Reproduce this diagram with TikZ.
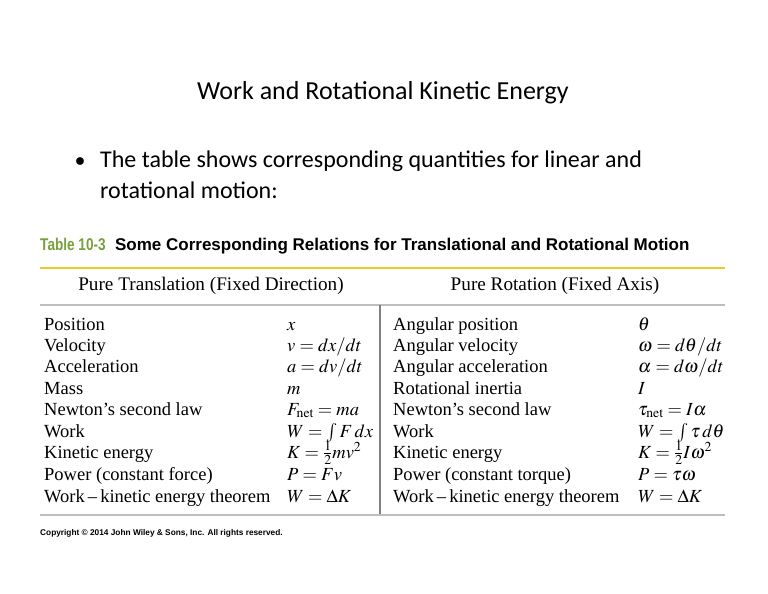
\documentclass[tikz,border=0pt]{standalone}
\usepackage{mathptmx}
\usepackage[no-math]{fontspec}
\setmainfont{Liberation Serif}
\newfontfamily\calfont{Carlito}
\newfontfamily\hsans{Liberation Sans}
\definecolor{tgreen}{RGB}{120,160,60}
\definecolor{tyellow}{RGB}{240,200,40}
\definecolor{tgray}{RGB}{190,190,190}
\begin{document}
\begin{tikzpicture}[x=1pt,y=-1pt,
  lab/.style={anchor=base west,inner sep=0pt,font=\fontsize{18.5}{20}\selectfont},
  bul/.style={anchor=west,inner sep=0pt,font=\calfont\fontsize{24}{26}\selectfont}]
\useasboundingbox[fill=white] (0,0) rectangle (768,594);
\node[inner sep=0pt,font=\calfont\fontsize{26}{28}\selectfont] (title) at (383,93) {Work and Rotational Kinetic Energy};
\node[inner sep=0pt,font=\fontsize{20}{20}\selectfont] (dot) at (80,162) {$\bullet$};
\node[bul] (b1) at (100,161) {The table shows corresponding quantities for linear and};
\node[bul] (b2) at (100,190) {rotational motion:};
\node[anchor=west,inner sep=0pt,font=\hsans\bfseries\fontsize{17}{19}\selectfont] (tt) at (40,246)
  {\textcolor{tgreen}{\scalebox{0.8}[1]{Table 10-3}}\ \ Some Corresponding Relations for Translational and Rotational Motion};
\draw[tyellow,line width=2.5pt] (40,268) -- (725,268);
\node[inner sep=0pt,font=\fontsize{19.2}{21}\selectfont] (h1) at (211,286) {Pure Translation (Fixed Direction)};
\node[inner sep=0pt,font=\fontsize{19.2}{21}\selectfont] (h2) at (555,286) {Pure Rotation (Fixed Axis)};
\draw[tgray,line width=2pt] (40,305) -- (725,305);
\draw[gray,line width=1.2pt] (380,305) -- (380,515);
\draw[tgray,line width=1.5pt] (40,515) -- (725,515);
\foreach \y/\a/\b/\c/\d in {
 324/Position/{$x$}/Angular position/{$\theta$},
 345/Velocity/{$v=dx/dt$}/Angular velocity/{$\omega=d\theta/dt$},
 366/Acceleration/{$a=dv/dt$}/Angular acceleration/{$\alpha=d\omega/dt$},
 388/Mass/{$m$}/Rotational inertia/{$I$},
 409/Newton’s second law/{$F_{\mathrm{net}}=ma$}/Newton’s second law/{$\tau_{\mathrm{net}}=I\alpha$},
 431/Work/{$W=\int F\,dx$}/Work/{$W=\int\tau\,d\theta$},
 452/Kinetic energy/{$K=\frac12mv^2$}/Kinetic energy/{$K=\frac12I\omega^2$},
 474/Power (constant force)/{$P=Fv$}/Power (constant torque)/{$P=\tau\omega$},
 496/Work\,–\,kinetic energy theorem/{$W=\Delta K$}/Work\,–\,kinetic energy theorem/{$W=\Delta K$}}{
 \node[lab] (l\y) at (44,\y+6) {\a};
 \node[lab] (f\y) at (287,\y+6) {\b};
 \node[lab] (r\y) at (393,\y+6) {\c};
 \node[lab] (g\y) at (638,\y+6) {\d};
}
\node[anchor=west,inner sep=0pt,font=\hsans\bfseries\fontsize{8.3}{10}\selectfont] (copy) at (40,533) {Copyright © 2014 John Wiley \& Sons, Inc. All rights reserved.};
\end{tikzpicture}
\end{document}
